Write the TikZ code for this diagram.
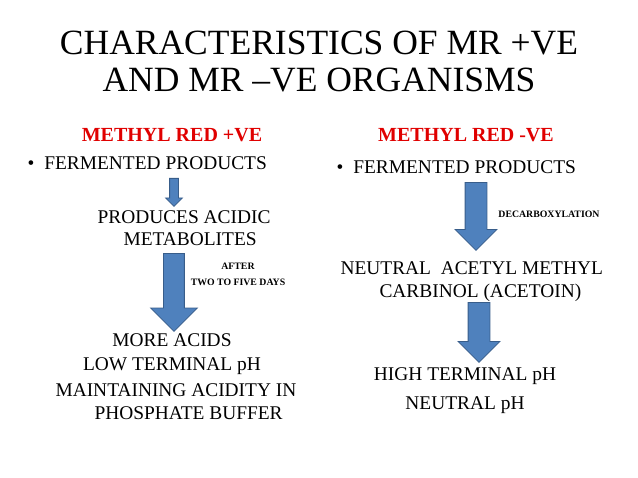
\documentclass[tikz,border=0pt]{standalone}
\usepackage{fontspec}
\setmainfont{Liberation Serif}
\usetikzlibrary{shapes.arrows}
\definecolor{ablue}{HTML}{4F81BD}
\definecolor{aline}{HTML}{385D8A}
\definecolor{hred}{HTML}{E00000}
\begin{document}
\begin{tikzpicture}[x=1pt,y=-1pt,
  title/.style={font=\fontsize{35.5}{40}\selectfont, anchor=base},
  head/.style={font=\fontsize{20}{22}\selectfont\bfseries, text=hred, anchor=base},
  body/.style={font=\fontsize{19.4}{22}\selectfont, anchor=base},
  tiny/.style={font=\fontsize{9.8}{11}\selectfont\bfseries, anchor=base},
  arr/.style={single arrow, draw=aline, fill=ablue, line width=0.8pt, shape border rotate=270, inner sep=0pt, single arrow head extend=#1, anchor=north, minimum width=0pt}]
\useasboundingbox (0,0) rectangle (638,478);
\node[title] (t1) at (319,55) {CHARACTERISTICS OF MR +VE};
\node[title] (t2) at (319,92) {AND MR –VE ORGANISMS};
\node[head] (lh) at (172,142) {METHYL RED +VE};
\node[head] (rh) at (466,142) {METHYL RED -VE};
\node[body, anchor=base west] (lb) at (24,170) {•\hspace{10pt}FERMENTED PRODUCTS};
\node[body, anchor=base west] (rb) at (333,174) {•\hspace{10pt}FERMENTED PRODUCTS};
\node[arr=4pt, minimum height=28pt, text width=8pt] (a1) at (174,178) {};
\node[body, anchor=base west] (p1) at (94,224) {PRODUCES ACIDIC};
\node[body, anchor=base west] (p2) at (120,246) {METABOLITES};
\node[arr=13pt, minimum height=78pt, text width=20pt] (a2) at (174,253) {};
\node[tiny] (af) at (238,270) {AFTER};
\node[tiny] (tw) at (238,286) {TWO TO FIVE DAYS};
\node[body] (m1) at (172,347) {MORE ACIDS};
\node[body] (m2) at (172,371) {LOW TERMINAL pH};
\node[body, anchor=base west] (m3) at (52,397) {MAINTAINING ACIDITY IN};
\node[body, anchor=base west] (m4) at (91,420) {PHOSPHATE BUFFER};
\node[arr=10pt, minimum height=68pt, text width=21pt] (a3) at (476,182) {};
\node[tiny] (dc) at (549,218) {DECARBOXYLATION};
\node[body, anchor=base west] (n1) at (337,275) {NEUTRAL\ \ ACETYL METHYL};
\node[body, anchor=base west] (n2) at (376,298) {CARBINOL (ACETOIN)};
\node[arr=10pt, minimum height=60pt, text width=21pt] (a4) at (479,302) {};
\node[body] (h1) at (465,381) {HIGH TERMINAL pH};
\node[body] (h2) at (465,410) {NEUTRAL pH};
\end{tikzpicture}
\end{document}
